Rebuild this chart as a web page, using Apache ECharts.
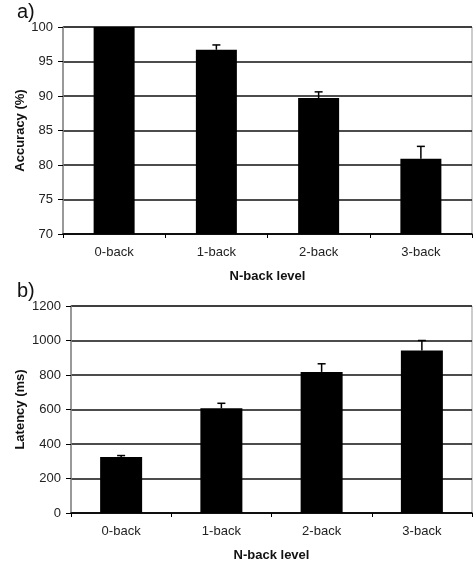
<!DOCTYPE html>
<html>
<head>
<meta charset="utf-8">
<script src="https://cdn.jsdelivr.net/npm/echarts@6/dist/echarts.min.js"></script>
<style>
  html, body { margin: 0; padding: 0; background: #fff; }
  #chart { width: 474px; height: 585px; }
</style>
</head>
<body>
<div id="chart"></div>
<script>
// data
var categories = ['0-back', '1-back', '2-back', '3-back'];
var accuracy = [100, 96.7, 89.7, 80.9];
var accuracyErr = [0, 0.7, 0.9, 1.8];
var latency = [325, 607, 818, 942];
var latencyErr = [8, 29, 47, 58];

var FONT = 'Liberation Sans, Arial, sans-serif';

// upward-only error bar with a small cap
function renderErr(params, api) {
  var x = api.value(0), v = api.value(1), e = api.value(2);
  if (!e) return;
  var p0 = api.coord([x, v]);
  var p1 = api.coord([x, v + e]);
  var st = { stroke: '#000', lineWidth: 1.5 };
  return {
    type: 'group',
    children: [
      { type: 'line', shape: { x1: p0[0], y1: p0[1], x2: p1[0], y2: p1[1] }, style: st },
      { type: 'line', shape: { x1: p1[0] - 4, y1: p1[1], x2: p1[0] + 4, y2: p1[1] }, style: st }
    ]
  };
}

function xAxisOf(idx) {
  return {
    type: 'category',
    gridIndex: idx,
    data: categories,
    name: 'N-back level',
    nameLocation: 'middle',
    nameGap: 36,
    nameTextStyle: { fontFamily: FONT, fontSize: 13, fontWeight: 'bold', color: '#111' },
    axisLine: { lineStyle: { color: '#000', width: 1.5 } },
    axisTick: { show: true, length: 4, lineStyle: { color: '#000' } },
    axisLabel: { fontFamily: FONT, fontSize: 13, color: '#222', margin: 12 }
  };
}

function yAxisOf(idx, name, min, max, step, gap) {
  return {
    type: 'value',
    gridIndex: idx,
    min: min,
    max: max,
    interval: step,
    name: name,
    nameLocation: 'middle',
    nameGap: gap,
    nameMoveOverlap: false,
    nameTextStyle: { fontFamily: FONT, fontSize: 13, fontWeight: 'bold', color: '#111' },
    axisLine: { show: true, lineStyle: { color: '#888', width: 1.5 } },
    axisTick: { show: true, length: 5, lineStyle: { color: '#000' } },
    axisLabel: {
      fontFamily: FONT, fontSize: 13, color: '#222', margin: 10,
      formatter: function (v) { return String(v); }
    },
    splitLine: { show: true, lineStyle: { color: '#111', width: 1.5 } }
  };
}

var chart = echarts.init(document.getElementById('chart'));
chart.setOption({
  animation: false,
  backgroundColor: '#fff',
  title: [
    { text: 'a)', left: 12, top: -3, textStyle: { fontFamily: FONT, fontSize: 20, fontWeight: 'normal', color: '#111' } },
    { text: 'b)', left: 12, top: 276, textStyle: { fontFamily: FONT, fontSize: 20, fontWeight: 'normal', color: '#111' } }
  ],
  grid: [
    { left: 63, top: 27, width: 409, height: 207, show: true, borderColor: '#999', borderWidth: 1 },
    { left: 71, top: 306, width: 401, height: 207, show: true, borderColor: '#999', borderWidth: 1 }
  ],
  xAxis: [xAxisOf(0), xAxisOf(1)],
  yAxis: [
    yAxisOf(0, 'Accuracy (%)', 70, 100, 5, 36),
    yAxisOf(1, 'Latency (ms)', 0, 1200, 200, 44)
  ],
  series: [
    {
      type: 'bar', xAxisIndex: 0, yAxisIndex: 0, data: accuracy,
      barWidth: 41, itemStyle: { color: '#000' }
    },
    {
      type: 'custom', xAxisIndex: 0, yAxisIndex: 0, renderItem: renderErr, z: 5,
      encode: { x: 0, y: 1 },
      data: categories.map(function (c, i) { return [i, accuracy[i], accuracyErr[i]]; })
    },
    {
      type: 'bar', xAxisIndex: 1, yAxisIndex: 1, data: latency,
      barWidth: 42, itemStyle: { color: '#000' }
    },
    {
      type: 'custom', xAxisIndex: 1, yAxisIndex: 1, renderItem: renderErr, z: 5,
      encode: { x: 0, y: 1 },
      data: categories.map(function (c, i) { return [i, latency[i], latencyErr[i]]; })
    }
  ]
});
</script>
</body>
</html>
